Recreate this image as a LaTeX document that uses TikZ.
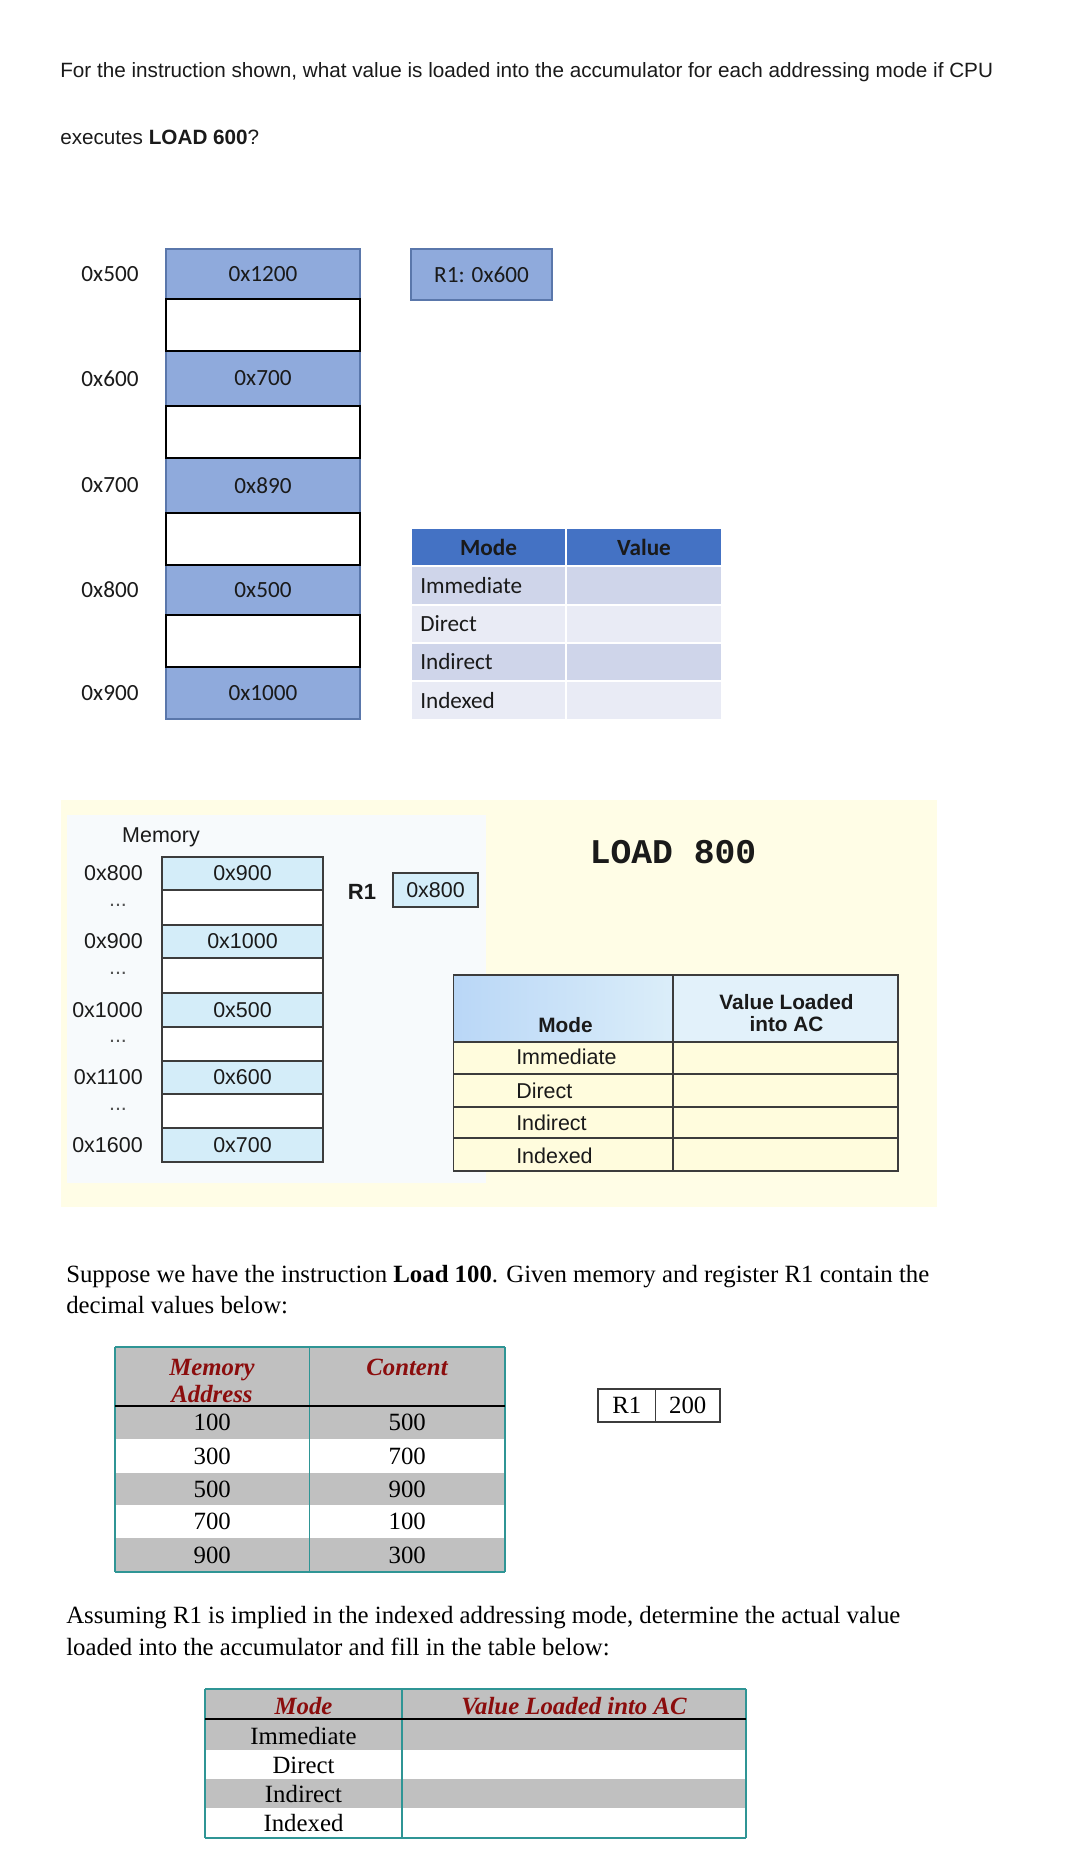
\documentclass[tikz,border=0pt]{standalone}
\usepackage{fontspec}
\setmainfont{Liberation Sans}
\newfontfamily\calfont{Carlito}
\newfontfamily\arfont{Liberation Sans}
\newfontfamily\courfont{Liberation Mono}
\newfontfamily\tmfont{Liberation Serif}
\definecolor{pblue}{HTML}{8FAADC}
\definecolor{pblueline}{HTML}{5A77AB}
\definecolor{hdrblue}{HTML}{4472C4}
\definecolor{rowa}{HTML}{CFD5EA}
\definecolor{rowb}{HTML}{E9EBF5}
\definecolor{ybg}{HTML}{FFFDE6}
\definecolor{inbg}{HTML}{F7FAFC}
\definecolor{cyancell}{HTML}{D4EDF9}
\definecolor{hdrA}{HTML}{C3E2F6}
\definecolor{hdrB}{HTML}{E2F1FA}
\definecolor{yrow}{HTML}{FFFCDD}
\definecolor{gline}{HTML}{3C3C3C}
\definecolor{tgray}{HTML}{C0C0C0}
\definecolor{tteal}{HTML}{2F9595}
\definecolor{tred}{HTML}{8B0D0D}
\definecolor{ink}{HTML}{1A1A1A}
\newcommand\cellat[7]{\node[#6, anchor=north west, inner sep=0pt, outer sep=0pt,
  minimum width={(#4-#2)*0.75pt}, minimum height={(#5-#3)*0.75pt}] (#1) at (#2,#3) {#7};}
\begin{document}
\begin{tikzpicture}[x=0.75pt,y=-0.75pt,
  ttl/.style={font=\arfont\fontsize{15.52}{18}\selectfont, text=ink, inner sep=0pt},
  s1/.style={font=\calfont\fontsize{17.4}{20}\selectfont, text=ink, inner sep=0pt},
  s1b/.style={font=\calfont\bfseries\fontsize{17.4}{20}\selectfont, text=ink, inner sep=0pt},
  mblue/.style={fill=pblue, draw=pblueline, line width=0.8pt},
  mwhite/.style={fill=white, draw=black, line width=0.9pt},
  s2/.style={font=\arfont\fontsize{16.1}{18}\selectfont, text=ink, inner sep=0pt},
  s2b/.style={font=\arfont\bfseries\fontsize{15.6}{18}\selectfont, text=ink, inner sep=0pt},
  c2/.style={draw=gline, line width=1.2pt},
  s3/.style={font=\tmfont\fontsize{18.6}{21}\selectfont, text=black, inner sep=0pt},
  s3h/.style={font=\tmfont\bfseries\itshape\fontsize{18.6}{21}\selectfont, text=tred, inner sep=0pt, align=center},
  tealthick/.style={draw=tteal, line width=2.2pt},
  tealthin/.style={draw=tteal, line width=1.1pt},
  hdrline/.style={draw=black, line width=1.4pt}]
\useasboundingbox[fill=white] (0,0) rectangle (1080,1873);

% ---------- title ----------
\node[ttl, anchor=west] (t1) at (60,72) {For the instruction shown, what value is loaded into the accumulator for each addressing mode if CPU};
\node[ttl, anchor=west] (t2) at (60,137) {executes \textbf{LOAD 600}?};

% ---------- section 1: memory ----------
\cellat{m0}{166}{249}{360}{299}{s1, mblue}{0x1200}
\cellat{m2}{166}{351}{360}{406}{s1, mblue}{0x700}
\cellat{m4}{166}{458}{360}{513}{s1, mblue}{0x890}
\cellat{m6}{166}{565}{360}{615}{s1, mblue}{0x500}
\cellat{m8}{166}{667}{360}{719}{s1, mblue}{0x1000}
\cellat{m1}{166}{299}{360}{351}{mwhite}{}
\cellat{m3}{166}{406}{360}{458}{mwhite}{}
\cellat{m5}{166}{513}{360}{565}{mwhite}{}
\cellat{m7}{166}{615}{360}{667}{mwhite}{}
\node[s1] (a0) at (110,274) {0x500};
\node[s1] (a1) at (110,378.5) {0x600};
\node[s1] (a2) at (110,485.5) {0x700};
\node[s1] (a3) at (110,590) {0x800};
\node[s1] (a4) at (110,693) {0x900};
\cellat{r1}{411}{249}{552}{300}{s1, mblue}{R1: 0x600}

% ---------- section 1: table ----------
\cellat{th1}{412}{529}{565}{565}{fill=hdrblue}{}
\cellat{th2}{567}{529}{721}{565}{fill=hdrblue}{}
\node[s1b] (thm) at (th1.center) {Mode};
\node[s1b] (thv) at (th2.center) {Value};
\cellat{ra1}{412}{567}{565}{604}{fill=rowa}{}
\cellat{rb1}{567}{567}{721}{604}{fill=rowa}{}
\cellat{ra2}{412}{606}{565}{642}{fill=rowb}{}
\cellat{rb2}{567}{606}{721}{642}{fill=rowb}{}
\cellat{ra3}{412}{644}{565}{680}{fill=rowa}{}
\cellat{rb3}{567}{644}{721}{680}{fill=rowa}{}
\cellat{ra4}{412}{682}{565}{719}{fill=rowb}{}
\cellat{rb4}{567}{682}{721}{719}{fill=rowb}{}
\node[s1, anchor=west] (l1) at (420,585.5) {Immediate};
\node[s1, anchor=west] (l2) at (420,624) {Direct};
\node[s1, anchor=west] (l3) at (420,662) {Indirect};
\node[s1, anchor=west] (l4) at (420,700.5) {Indexed};

% ---------- section 2 ----------
\fill[ybg] (61,800) rectangle (937,1207);
\fill[inbg] (67,815) rectangle (486,1183);
\node[s2] (memt) at (161,837) {Memory};
\cellat{n1}{162}{890}{323}{925}{c2, fill=white}{}
\cellat{n3}{162}{958}{323}{993}{c2, fill=white}{}
\cellat{n5}{162}{1027}{323}{1061}{c2, fill=white}{}
\cellat{n7}{162}{1094}{323}{1128}{c2, fill=white}{}
\cellat{n0}{162}{857}{323}{890}{s2, c2, fill=cyancell}{0x900}
\cellat{n2}{162}{925}{323}{958}{s2, c2, fill=cyancell}{0x1000}
\cellat{n4}{162}{993}{323}{1027}{s2, c2, fill=cyancell}{0x500}
\cellat{n6}{162}{1061}{323}{1094}{s2, c2, fill=cyancell}{0x600}
\cellat{n8}{162}{1128}{323}{1162}{s2, c2, fill=cyancell}{0x700}
\node[s2, anchor=east] (b0) at (143,873.5) {0x800};
\node[s2, anchor=east] (b1) at (143,941.5) {0x900};
\node[s2, anchor=east] (b2) at (143,1010) {0x1000};
\node[s2, anchor=east] (b3) at (143,1077.5) {0x1100};
\node[s2, anchor=east] (b4) at (143,1145) {0x1600};
\node[s2, text=ink!75] (d1) at (118,905) {...};
\node[s2, text=ink!75] (d2) at (118,973) {...};
\node[s2, text=ink!75] (d3) at (118,1041) {...};
\node[s2, text=ink!75] (d4) at (118,1109) {...};
\node[s2b, font=\arfont\bfseries\fontsize{16.5}{18}\selectfont] (r1lab) at (362,892) {R1};
\cellat{r1b}{393}{873}{478}{907}{s2, c2, fill=cyancell}{0x800}
\node[font=\courfont\bfseries\fontsize{26}{30}\selectfont, text=ink, inner sep=0pt] (load) at (673,852) {LOAD 800};
\cellat{h2a}{453.5}{975}{673}{1042}{c2, left color=hdrA!95!blue, right color=hdrA!60!white}{}
\cellat{h2b}{673}{975}{898}{1042}{c2, fill=hdrB}{}
\node[s2b] (h2m) at (565.5,1025) {Mode};
\node[s2b, align=center] (h2v) at (786.5,1013) {Value Loaded\\[-1.5pt]into AC};
\cellat{y1a}{453.5}{1042}{673}{1074}{c2, fill=yrow}{}
\cellat{y1b}{673}{1042}{898}{1074}{c2, fill=yrow}{}
\cellat{y2a}{453.5}{1074}{673}{1107}{c2, fill=yrow}{}
\cellat{y2b}{673}{1074}{898}{1107}{c2, fill=yrow}{}
\cellat{y3a}{453.5}{1107}{673}{1138}{c2, fill=yrow}{}
\cellat{y3b}{673}{1107}{898}{1138}{c2, fill=yrow}{}
\cellat{y4a}{453.5}{1138}{673}{1171}{c2, fill=yrow}{}
\cellat{y4b}{673}{1138}{898}{1171}{c2, fill=yrow}{}
\node[s2, anchor=west] (k1) at (516,1057) {Immediate};
\node[s2, anchor=west] (k2) at (516,1091) {Direct};
\node[s2, anchor=west] (k3) at (516,1123) {Indirect};
\node[s2, anchor=west] (k4) at (516,1156) {Indexed};

% ---------- section 3 ----------
\node[s3, anchor=west] (p1) at (66,1277) {Suppose we have the instruction \textbf{Load 100}. Given memory and register R1 contain the};
\node[s3, anchor=west] (p2) at (66,1305) {decimal values below:};
\cellat{g0a}{115}{1347}{309.5}{1406}{fill=tgray}{}
\cellat{g0b}{309.5}{1347}{505}{1406}{fill=tgray}{}
\cellat{g1a}{115}{1406}{309.5}{1439}{fill=tgray}{}
\cellat{g1b}{309.5}{1406}{505}{1439}{fill=tgray}{}
\cellat{g2a}{115}{1439}{309.5}{1473}{fill=white}{}
\cellat{g2b}{309.5}{1439}{505}{1473}{fill=white}{}
\cellat{g3a}{115}{1473}{309.5}{1505}{fill=tgray}{}
\cellat{g3b}{309.5}{1473}{505}{1505}{fill=tgray}{}
\cellat{g4a}{115}{1505}{309.5}{1538}{fill=white}{}
\cellat{g4b}{309.5}{1505}{505}{1538}{fill=white}{}
\cellat{g5a}{115}{1538}{309.5}{1572}{fill=tgray}{}
\cellat{g5b}{309.5}{1538}{505}{1572}{fill=tgray}{}
\draw[tealthin] (g0a.north west) -- (g5a.south west);
\draw[tealthin] (g0b.north east) -- (g5b.south east);
\draw[tealthin] (g0b.north west) -- (g5b.south west);
\draw[hdrline] (g0a.south west) -- (g0b.south east);
\draw[tealthick] (g0a.north west) -- (g0b.north east);
\draw[tealthick] (g5a.south west) -- (g5b.south east);
\node[s3h] (g0at) at (212,1381) {Memory\\[-1pt]Address};
\node[s3h] (g0bt) at (407,1367) {Content};
\node[s3] (v1a) at (g1a.center) {100};
\node[s3] (v1b) at (g1b.center) {500};
\node[s3] (v2a) at (g2a.center) {300};
\node[s3] (v2b) at (g2b.center) {700};
\node[s3] (v3a) at (g3a.center) {500};
\node[s3] (v3b) at (g3b.center) {900};
\node[s3] (v4a) at (g4a.center) {700};
\node[s3] (v4b) at (g4b.center) {100};
\node[s3] (v5a) at (g5a.center) {900};
\node[s3] (v5b) at (g5b.center) {300};
\cellat{rr1}{598}{1389}{655.5}{1422}{s3, draw=gline, line width=0.9pt}{R1}
\cellat{rr2}{655.5}{1389}{720}{1422}{s3, draw=gline, line width=0.9pt}{200}

% ---------- section 4 ----------
\node[s3, anchor=west] (q1) at (66,1618) {Assuming R1 is implied in the indexed addressing mode, determine the actual value};
\node[s3, anchor=west] (q2) at (66,1647) {loaded into the accumulator and fill in the table below:};
\cellat{f0a}{205}{1689}{402}{1719}{fill=tgray}{}
\cellat{f0b}{402}{1689}{746}{1719}{fill=tgray}{}
\cellat{f1a}{205}{1719}{402}{1750}{fill=tgray}{}
\cellat{f1b}{402}{1719}{746}{1750}{fill=tgray}{}
\cellat{f2a}{205}{1750}{402}{1779}{fill=white}{}
\cellat{f2b}{402}{1750}{746}{1779}{fill=white}{}
\cellat{f3a}{205}{1779}{402}{1808}{fill=tgray}{}
\cellat{f3b}{402}{1779}{746}{1808}{fill=tgray}{}
\cellat{f4a}{205}{1808}{402}{1838}{fill=white}{}
\cellat{f4b}{402}{1808}{746}{1838}{fill=white}{}
\draw[tealthin] (f0a.north west) -- (f4a.south west);
\draw[tealthin] (f0b.north east) -- (f4b.south east);
\draw[tealthin] (f0b.north west) -- (f4b.south west);
\draw[hdrline] (f0a.south west) -- (f0b.south east);
\draw[tealthick] (f0a.north west) -- (f0b.north east);
\draw[tealthick] (f4a.south west) -- (f4b.south east);
\node[s3h] (f0at) at (303.5,1706) {Mode};
\node[s3h] (f0bt) at (574,1706) {Value Loaded into AC};
\node[s3] (w1) at (303.5,1736) {Immediate};
\node[s3] (w2) at (303.5,1765) {Direct};
\node[s3] (w3) at (303.5,1794) {Indirect};
\node[s3] (w4) at (303.5,1823) {Indexed};
\end{tikzpicture}
\end{document}
